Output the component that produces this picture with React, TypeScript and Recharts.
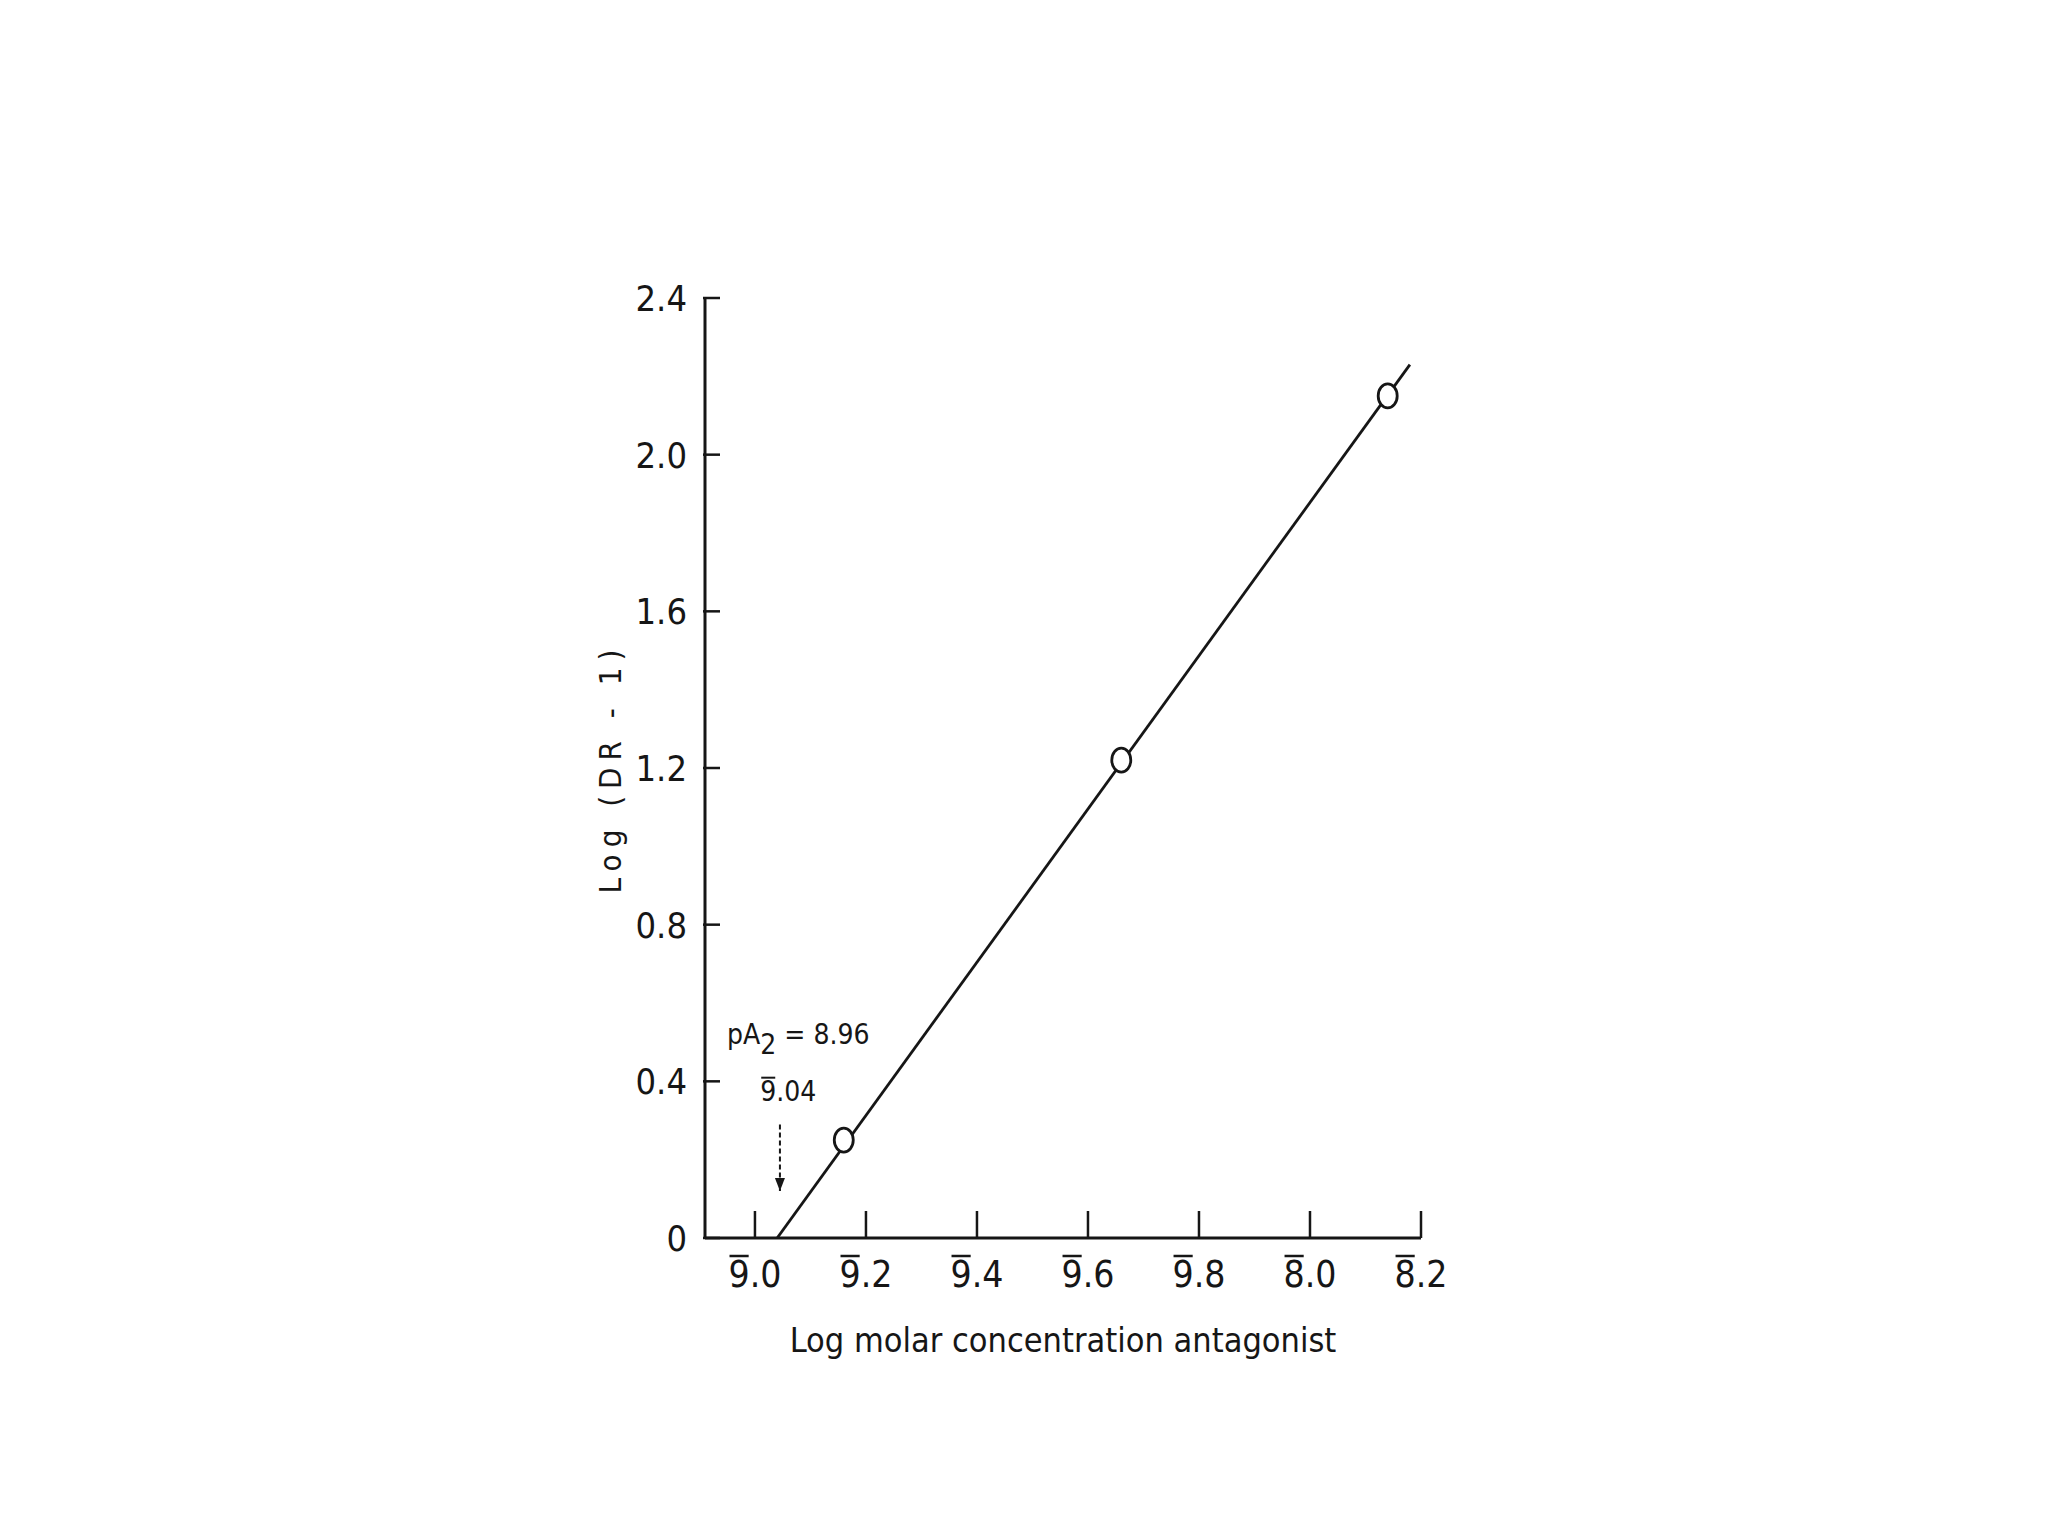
import { ComposedChart, Line, Scatter, XAxis, YAxis } from "recharts";

// bar notation: the first digit of each x label carries an overline (9̄.2 = -8.8)
const xTicks = [-9.0, -8.8, -8.6, -8.4, -8.2, -8.0, -7.8];
const xTickLabels = ["9.0", "9.2", "9.4", "9.6", "9.8", "8.0", "8.2"];
const yTicks = [0, 0.4, 0.8, 1.2, 1.6, 2.0, 2.4];
const yTickLabels = ["0", "0.4", "0.8", "1.2", "1.6", "2.0", "2.4"];

const pointX = [-8.84, -8.34, -7.86];
const pointY = [0.25, 1.22, 2.15];

const fitX = [-8.96, -7.82];
const fitY = [0, 2.23];

const arrowX = [-8.955, -8.955];
const arrowY = [0.29, 0.12];

const noteX = [-8.922, -8.94];
const noteY = [0.52, 0.375];
const noteText = ["pA2 = 8.96", "9.04"];

const FONT = "'Liberation Sans Narrow', 'DejaVu Sans Condensed', 'Liberation Sans', sans-serif";
const INK = "#161616";
// approx glyph advance widths (em) of the condensed face
const DIGIT = 0.572;
const DOT = 0.286;

const W = 2048;
const H = 1536;
const Y_AXIS_W = 120;
const X_AXIS_H = 120;

const points = pointX.map((x, i) => ({ x, y: pointY[i] }));
const fit = fitX.map((x, i) => ({ x, y: fitY[i] }));
const arrow = arrowX.map((x, i) => ({ x, y: arrowY[i] }));
const arrowTip = [arrow[1]];
const notes = noteX.map((x, i) => ({ x, y: noteY[i], text: noteText[i] }));

function XTick(props: any) {
  const { x, y, payload } = props;
  const i = xTicks.indexOf(payload.value);
  const label = xTickLabels[i] ?? String(payload.value);
  const fs = 37;
  const axisY = y - 22;
  const totalW = fs * (DIGIT * 2 + DOT);
  const left = x - totalW / 2;
  return (
    <g>
      <line x1={x} x2={x} y1={axisY} y2={axisY - 27} stroke={INK} strokeWidth={2.5} />
      <text x={x} y={y} dy="0.72em" textAnchor="middle" fontFamily={FONT} fontSize={fs} fill={INK}>
        {label}
      </text>
      <line
        x1={left + 1}
        x2={left + fs * DIGIT - 1}
        y1={y - 4}
        y2={y - 4}
        stroke={INK}
        strokeWidth={2.5}
      />
    </g>
  );
}

function YTick(props: any) {
  const { x, y, payload } = props;
  const i = yTicks.indexOf(payload.value);
  const label = yTickLabels[i] ?? String(payload.value);
  return (
    <g>
      <line x1={x + 16} x2={x + 33} y1={y} y2={y} stroke={INK} strokeWidth={2.5} />
      <text x={x} y={y} dy="0.36em" textAnchor="end" fontFamily={FONT} fontSize={36} fill={INK}>
        {label}
      </text>
    </g>
  );
}

function OpenCircle(props: any) {
  const { cx, cy } = props;
  return <ellipse cx={cx} cy={cy} rx={9.5} ry={12} fill="#fff" stroke={INK} strokeWidth={2.8} />;
}

function ArrowHead(props: any) {
  const { cx, cy } = props;
  return <path d={`M ${cx - 5} ${cy - 13} L ${cx + 5} ${cy - 13} L ${cx} ${cy} Z`} fill={INK} />;
}

function NoteLabel(props: any) {
  const { cx, cy, payload } = props;
  const fs = 28;
  if (payload.text.startsWith("pA")) {
    const [, rest] = payload.text.split("pA2");
    return (
      <text x={cx} y={cy} dy="0.36em" textAnchor="middle" fontFamily={FONT} fontSize={fs} fill={INK}>
        pA
        <tspan dy={10} fontSize={fs}>2</tspan>
        <tspan dy={-10}>{rest}</tspan>
      </text>
    );
  }
  const w = fs * (DIGIT * 3 + DOT);
  const left = cx - w / 2;
  return (
    <g>
      <text x={cx} y={cy} dy="0.36em" textAnchor="middle" fontFamily={FONT} fontSize={fs} fill={INK}>
        {payload.text}
      </text>
      <line
        x1={left + 1}
        x2={left + fs * DIGIT - 1}
        y1={cy - fs * 0.48}
        y2={cy - fs * 0.48}
        stroke={INK}
        strokeWidth={2}
      />
    </g>
  );
}

export default function App() {
  return (
    <div style={{ position: "absolute", left: 0, top: 0, width: W, height: H, background: "#fff" }}>
      <ComposedChart
        width={W}
        height={H}
        margin={{ top: 298, right: 627, bottom: 298 - X_AXIS_H, left: 705 - Y_AXIS_W }}
      >
        <XAxis
          type="number"
          dataKey="x"
          domain={[-9.09, -7.8]}
          allowDataOverflow
          ticks={xTicks}
          height={X_AXIS_H}
          tickSize={0}
          tickMargin={22}
          tick={<XTick />}
          axisLine={{ stroke: INK, strokeWidth: 3 }}
          label={{
            value: "Log molar concentration antagonist",
            position: "insideBottom",
            offset: 6,
            fontFamily: FONT,
            fontSize: 34,
            fill: INK,
          }}
        />
        <YAxis
          type="number"
          dataKey="y"
          domain={[0, 2.4]}
          allowDataOverflow
          ticks={yTicks}
          width={Y_AXIS_W}
          tickSize={0}
          tickMargin={18}
          tick={<YTick />}
          axisLine={{ stroke: INK, strokeWidth: 3 }}
          label={{
            value: "Log (DR - 1)",
            angle: -90,
            position: "insideLeft",
            offset: 25,
            fontFamily: FONT,
            fontSize: 31,
            letterSpacing: 7,
            fill: INK,
            style: { textAnchor: "middle" },
          }}
        />
        <Line
          data={fit}
          dataKey="y"
          type="linear"
          stroke={INK}
          strokeWidth={2.8}
          dot={false}
          activeDot={false}
          isAnimationActive={false}
        />
        <Line
          data={arrow}
          dataKey="y"
          type="linear"
          stroke={INK}
          strokeWidth={2}
          strokeDasharray="5 3"
          dot={false}
          activeDot={false}
          isAnimationActive={false}
        />
        <Scatter data={arrowTip} dataKey="y" shape={<ArrowHead />} isAnimationActive={false} />
        <Scatter data={points} dataKey="y" shape={<OpenCircle />} isAnimationActive={false} />
        <Scatter data={notes} dataKey="y" shape={<NoteLabel />} isAnimationActive={false} />
      </ComposedChart>
    </div>
  );
}
